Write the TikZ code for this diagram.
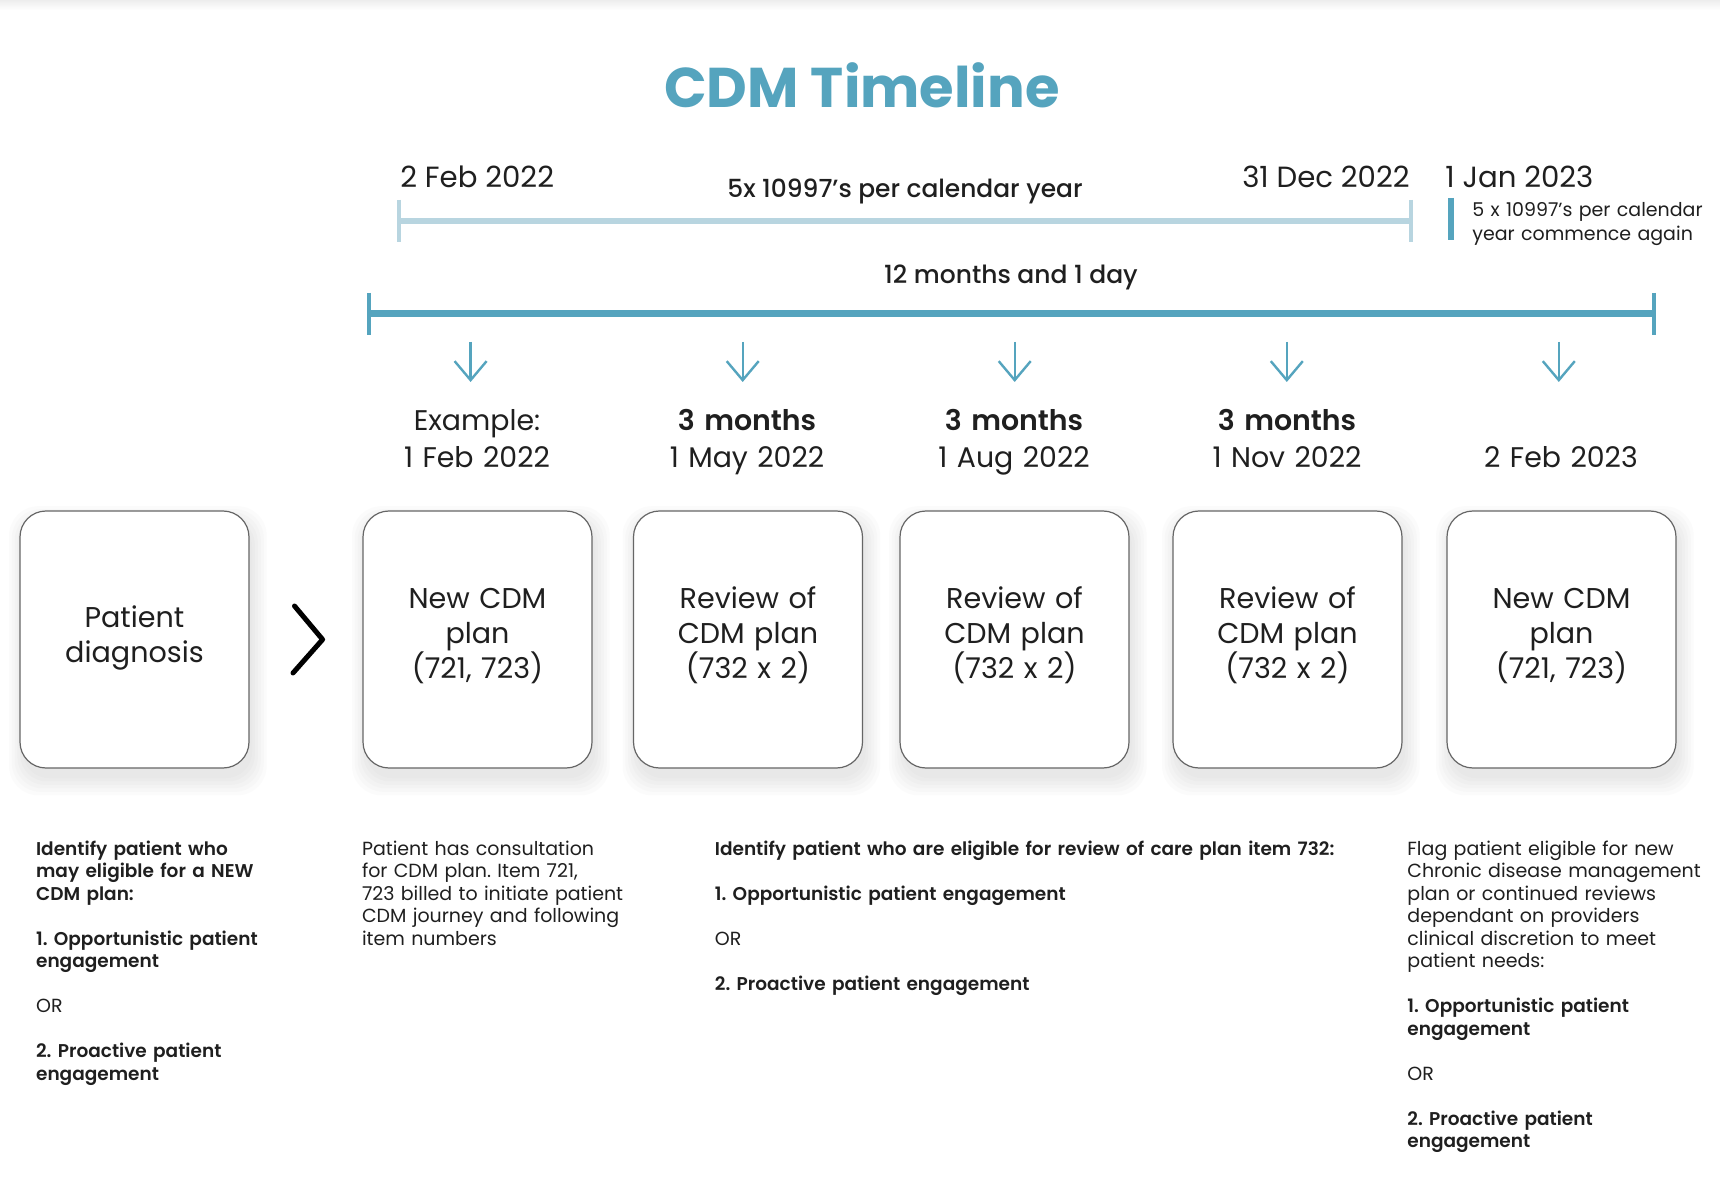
\documentclass[tikz,border=0pt]{standalone}
\usepackage{fontspec}
\setmainfont{Poppins}[BoldFont={Poppins SemiBold}]
\newfontfamily\popmed{Poppins Medium}
\newfontfamily\popheavy{Poppins Bold}
\usetikzlibrary{positioning,arrows.meta,shadows}
\definecolor{cdmteal}{HTML}{55A4BE}
\definecolor{cdmlight}{HTML}{B8D5E0}
\definecolor{cdmink}{HTML}{1F1F1F}
\newcommand{\setfs}[2]{\fontsize{#1}{#2}\selectfont}
\newcommand{\gap}{\\[11.25pt]}
\newcommand{\hd}[1]{{\fontsize{9.25pt}{11.25pt}\selectfont\bfseries #1}}
\frenchspacing

\begin{document}
\begin{tikzpicture}[x=0.5pt, y=-0.5pt,
    every node/.style={text=cdmink, inner sep=0pt},
    softshadow/.style={drop shadow={shadow xshift=1.5pt, shadow yshift=-5pt, opacity=.028, shadow scale=#1}},
    card/.style={draw=black!60, line width=0.6pt, fill=white, rounded corners=13pt,
        minimum width=114.5pt, minimum height=128.5pt,
        softshadow=1.125, softshadow=1.1, softshadow=1.075, softshadow=1.05, softshadow=1.025, softshadow=1.0},
    cardtext/.style={text width=110pt, align=center, anchor=base, font=\setfs{14.3pt}{17.5pt}},
    datetext/.style={text width=110pt, align=center, anchor=base, font=\setfs{14.2pt}{18.5pt}},
    notetext/.style={text width=#1, align=left, anchor=base west, font=\setfs{9.5pt}{11.25pt}},
    bar/.style={line width=#1},
    tick/.style={line width=2pt},
    down/.style={cdmteal, line width=1.2pt, -{Straight Barb[length=9.5pt, width=16pt]}}]

\useasboundingbox (0,0) rectangle (1720,1187);
\fill[white] (0,0) rectangle (1720,1187);
\shade[top color=black!7, bottom color=white] (0,0) rectangle (1720,10);

% title
\node[anchor=base, text=cdmteal, font=\setfs{28pt}{34pt}\popheavy] (title) at (862,108) {CDM Timeline};

% calendar year bar
\node[anchor=base west, font=\setfs{14.6pt}{16pt}] (start) at (400,188) {2 Feb 2022};
\node[anchor=base east, font=\setfs{14.6pt}{16pt}] (yearend) at (1410,188) {31 Dec 2022};
\node[anchor=base west, font=\setfs{14.6pt}{16pt}] (newyear) at (1445,188) {1 Jan 2023};
\node[anchor=base, font=\setfs{12.45pt}{14pt}\popmed] (peryear) at (905,198) {5x 10997’s per calendar year};
\coordinate (y0) at (399,221);
\coordinate (y1) at (1411,221);
\draw[cdmlight, bar=3pt] (y0) -- (y1);
\draw[cdmlight, tick] (399,200) -- (399,242);
\draw[cdmlight, tick] (1411,200) -- (1411,242);
\draw[cdmteal, line width=3pt] (1451,198) -- (1451,240);
\node[notetext=130pt, font=\setfs{9.5pt}{11.65pt}] (again) at (1472,217) {5 x 10997’s per calendar\\year commence again};

% twelve months bar
\node[anchor=base, font=\setfs{12.5pt}{14pt}\popmed] (span) at (1011,284) {12 months and 1 day};
\coordinate (m0) at (368.6,314);
\coordinate (m1) at (1654,314);
\draw[cdmteal, bar=3.5pt] (m0) -- (m1);
\draw[cdmteal, tick] (368.6,293) -- (368.6,335.5);
\draw[cdmteal, tick] (1654,293) -- (1654,335.5);

% arrows
\foreach \x [count=\i] in {470.6,742.7,1014.7,1286.8,1558.8} {
    \coordinate (a\i) at (\x,342);
    \draw[down] (a\i) -- ++(0,40);
}

% dates
\node[datetext] (d1) at (477,431) {Example:\\1 Feb 2022};
\node[datetext] (d2) at (747,431) {\bfseries 3 months\\\mdseries 1 May 2022};
\node[datetext] (d3) at (1014,431) {\bfseries 3 months\\\mdseries 1 Aug 2022};
\node[datetext] (d4) at (1287,431) {\bfseries 3 months\\\mdseries 1 Nov 2022};
\node[datetext] (d5) at (1561,468) {2 Feb 2023};

% cards
\node[card] (diag) at (134.5,639.5) {};
\node[card] (plan1) at (477.5,639.5) {};
\node[card] (rev1) at (748,639.5) {};
\node[card] (rev2) at (1014.5,639.5) {};
\node[card] (rev3) at (1287.5,639.5) {};
\node[card] (plan2) at (1561.5,639.5) {};

\node[cardtext] (diagtxt) at (134.5,627) {Patient\\diagnosis};
\node[cardtext] (plan1txt) at (477.5,609) {New CDM\\plan\\(721, 723)};
\node[cardtext] (rev1txt) at (748,609) {Review of\\CDM plan\\(732 x 2)};
\node[cardtext] (rev2txt) at (1014.5,609) {Review of\\CDM plan\\(732 x 2)};
\node[cardtext] (rev3txt) at (1287.5,609) {Review of\\CDM plan\\(732 x 2)};
\node[cardtext] (plan2txt) at (1561.5,609) {New CDM\\plan\\(721, 723)};

% chevron
\draw[line width=2.5pt, line cap=round, line join=round] (294.5,606) -- (322.6,639.5) -- (293,673);

% notes
\node[notetext=140pt] (note1) at (35.7,855) {\hd{Identify patient who\\may eligible for a NEW\\CDM plan:}\gap
    \hd{1. Opportunistic patient\\engagement}\gap OR\gap \hd{2. Proactive patient\\engagement}};
\node[notetext=150pt] (note2) at (361.6,855) {Patient has consultation\\for CDM plan. Item 721,\\723 billed to initiate patient\\CDM journey and following\\item numbers};
\node[notetext=330pt] (note3) at (714.5,855) {\hd{Identify patient who are eligible for review of care plan item 732:}\gap
    \hd{1. Opportunistic patient engagement}\gap OR\gap \hd{2. Proactive patient engagement}};
\node[notetext=155pt] (note4) at (1407,855) {Flag patient eligible for new\\Chronic disease management\\plan or continued reviews\\dependant on providers\\clinical discretion to meet\\patient needs:\gap
    \hd{1. Opportunistic patient\\engagement}\gap OR\gap \hd{2. Proactive patient\\engagement}};
\end{tikzpicture}
\end{document}
